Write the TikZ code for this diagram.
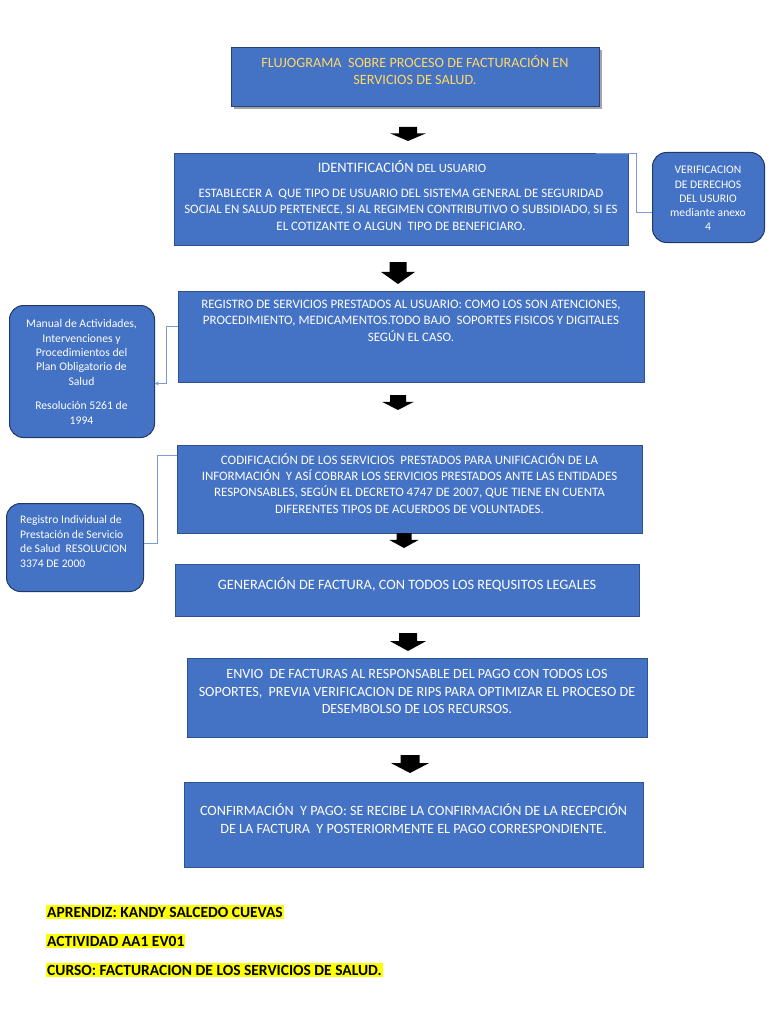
\documentclass[tikz,border=0pt]{standalone}
\usepackage{fontspec}
\setmainfont{Carlito}
\usetikzlibrary{shadows,arrows.meta}
\definecolor{boxblue}{HTML}{4472C4}
\definecolor{boxedge}{HTML}{2F528F}
\definecolor{titletext}{HTML}{FFD966}
\definecolor{linkblue}{HTML}{7B9BD8}
\definecolor{hl}{HTML}{FFFF00}
\newcommand\blkarrow[4]{%
  \pgfmathsetmacro\bkxa{#1-#4*0.5}\pgfmathsetmacro\bkxb{#1+#4*0.5}%
  \pgfmathsetmacro\bkxc{#1-#4}\pgfmathsetmacro\bkxd{#1+#4}%
  \pgfmathsetmacro\bkym{#2+0.45*(#3-#2)}%
  \fill[black] (\bkxa,#2) -- (\bkxb,#2) -- (\bkxb,\bkym) -- (\bkxd,\bkym) -- (#1,#3) -- (\bkxc,\bkym) -- (\bkxa,\bkym) -- cycle;}
\begin{document}
\begin{tikzpicture}[x=1pt,y=-1pt,
  box/.style={draw=boxedge, fill=boxblue, line width=0.8pt, inner sep=0pt, anchor=north west},
  rbox/.style={box, rounded corners=14pt, line width=1pt, draw=boxedge!70!black},
  txt/.style={text=white, align=center, inner sep=0pt},
  link/.style={draw=linkblue, line width=0.8pt},
  foot/.style={fill=hl, inner xsep=1pt, inner ysep=1.5pt, anchor=west, font=\bfseries\fontsize{15.5}{17}\selectfont}]
\useasboundingbox (0,0) rectangle (768,1024);
\fill[white] (0,0) rectangle (768,1024);

% title
\node[box, draw=boxedge!80!black, line width=1.4pt, minimum width=368pt, minimum height=59pt,
  drop shadow={shadow xshift=2.5pt, shadow yshift=-2.5pt, opacity=0.7}] (title) at (231,47) {};
\node[txt, text=titletext, font=\fontsize{14.2}{17}\selectfont] (titletxt) at (415,70.5)
  {FLUJOGRAMA\ \ SOBRE PROCESO DE FACTURACIÓN EN\\SERVICIOS DE SALUD.};

\blkarrow{408}{127}{141}{18}

% identificacion
\node[box, minimum width=454pt, minimum height=92pt] (idbox) at (174,153) {};
\node[txt, font=\fontsize{14.4}{16}\selectfont] (idhead) at (402,167)
  {IDENTIFICACIÓN {\fontsize{12.6}{16}\selectfont DEL USUARIO}};
\node[txt, font=\fontsize{12.9}{16.5}\selectfont] (idtxt) at (401,209.5)
  {ESTABLECER A\ \ QUE TIPO DE USUARIO DEL SISTEMA GENERAL DE SEGURIDAD\\
   SOCIAL EN SALUD PERTENECE, SI AL REGIMEN CONTRIBUTIVO O SUBSIDIADO, SI ES\\
   EL COTIZANTE O ALGUN\ \ TIPO DE BENEFICIARO.};

\node[rbox, minimum width=112pt, minimum height=90pt] (verif) at (652,152) {};
\node[txt, font=\fontsize{11.6}{14.2}\selectfont] (veriftxt) at (708,198.5)
  {VERIFICACION\\DE DERECHOS\\DEL USURIO\\mediante anexo\\4};
\draw[link] ([xshift=-33pt]idbox.north east) -- ++(41,0) |- ([yshift=-15pt]verif.west);

\blkarrow{398}{262}{284}{17}

% registro
\node[box, minimum width=466pt, minimum height=91pt] (reg) at (178,291) {};
\node[txt, font=\fontsize{12.9}{16.5}\selectfont] (regtxt) at (411,320.5)
  {REGISTRO DE SERVICIOS PRESTADOS AL USUARIO: COMO LOS SON ATENCIONES,\\
   PROCEDIMIENTO, MEDICAMENTOS.TODO BAJO\ \ SOPORTES FISICOS Y DIGITALES\\
   SEGÚN EL CASO.};

\node[rbox, minimum width=145pt, minimum height=132pt] (man) at (9,305) {};
\node[txt, font=\fontsize{11.7}{14.3}\selectfont] (mantxt) at (81.5,372)
  {Manual de Actividades,\\Intervenciones y\\Procedimientos del\\Plan Obligatorio de\\Salud\\[10.5pt]Resolución 5261 de\\1994};
\draw[link, -{Stealth[length=3.5pt,width=4pt]}] ([yshift=10.5pt]reg.west) -- ++(-12,0) |- ([yshift=-12pt]man.east);

\blkarrow{398}{395}{410}{16}

% codificacion
\node[box, minimum width=465pt, minimum height=88pt] (cod) at (177,445) {};
\node[txt, font=\fontsize{12.9}{16.3}\selectfont] (codtxt) at (409.5,483.5)
  {CODIFICACIÓN DE LOS SERVICIOS\ \ PRESTADOS PARA UNIFICACIÓN DE LA\\
   INFORMACIÓN\ \ Y ASÍ COBRAR LOS SERVICIOS PRESTADOS ANTE LAS ENTIDADES\\
   RESPONSABLES, SEGÚN EL DECRETO 4747 DE 2007, QUE TIENE EN CUENTA\\
   DIFERENTES TIPOS DE ACUERDOS DE VOLUNTADES.};

\node[rbox, minimum width=137pt, minimum height=88pt] (rips) at (6,503) {};
\node[txt, align=left, anchor=west, font=\fontsize{11.6}{14.4}\selectfont] (ripstxt) at (20,541.5)
  {Registro Individual de\\Prestación de Servicio\\de Salud\ \ RESOLUCION\\3374 DE 2000};
\draw[link] ([yshift=34pt]cod.west) -- ++(-20,0) |- ([yshift=4pt]rips.east);

\blkarrow{404}{533}{548}{15}

% generacion
\node[box, minimum width=464pt, minimum height=52pt] (gen) at (175,564) {};
\node[txt, font=\fontsize{14.3}{16}\selectfont] (gentxt) at (407,584)
  {GENERACIÓN DE FACTURA, CON TODOS LOS REQUSITOS LEGALES};

\blkarrow{408}{633}{651}{18}

% envio
\node[box, minimum width=460pt, minimum height=79pt] (env) at (187,658) {};
\node[txt, font=\fontsize{14.1}{17.5}\selectfont] (envtxt) at (417,691.5)
  {ENVIO\ \ DE FACTURAS AL RESPONSABLE DEL PAGO CON TODOS LOS\\
   SOPORTES,\ \ PREVIA VERIFICACION DE RIPS PARA OPTIMIZAR EL PROCESO DE\\
   DESEMBOLSO DE LOS RECURSOS.};

\blkarrow{410}{755}{773}{19}

% confirmacion
\node[box, minimum width=459pt, minimum height=85pt] (conf) at (184,782) {};
\node[txt, font=\fontsize{14.2}{18}\selectfont] (conftxt) at (413.5,819)
  {CONFIRMACIÓN\ \ Y PAGO: SE RECIBE LA CONFIRMACIÓN DE LA RECEPCIÓN\\
   DE LA FACTURA\ \ Y POSTERIORMENTE EL PAGO CORRESPONDIENTE.};

% footer
\node[foot] (f1) at (46,912) {APRENDIZ: KANDY SALCEDO CUEVAS};
\node[foot] (f2) at (46,941) {ACTIVIDAD AA1 EV01};
\node[foot] (f3) at (46,970) {CURSO: FACTURACION DE LOS SERVICIOS DE SALUD.};
\end{tikzpicture}
\end{document}
